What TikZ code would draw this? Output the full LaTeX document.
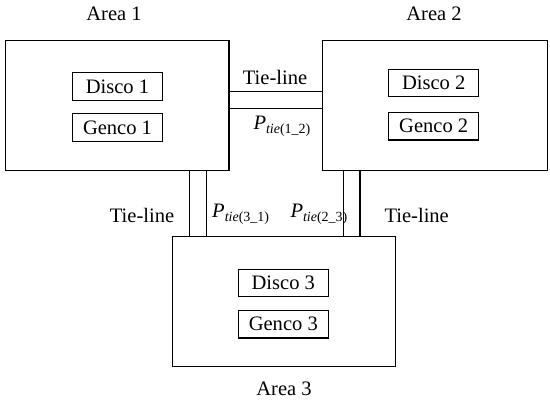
\documentclass[tikz,border=0pt]{standalone}
\usepackage{fontspec}
\setmainfont{Liberation Serif}
\newcommand\ptie[1]{\textit{P}\raisebox{-2.6pt}{\fontsize{10.5}{12}\selectfont\textit{tie}(#1)}}

\begin{document}
\begin{tikzpicture}[x=0.75pt,y=-0.75pt,line width=0.8pt,
  every node/.style={font=\fontsize{15.4}{18}\selectfont},
  area/.style={draw,minimum width=167.5pt,minimum height=97pt,inner sep=0pt},
  unit/.style={draw,minimum width=67.5pt,minimum height=20.7pt,inner sep=0pt}]
\useasboundingbox (0,0) rectangle (550,406);
% areas
\node[area] (area1) at (117.3,105.4) {};
\node[area,minimum width=168.7pt] (area2) at (434.8,105.4) {};
\node[area,minimum height=97.5pt] (area3) at (283.7,301.7) {};
\node[anchor=base] (lbl1) at (114,21) {Area 1};
\node[anchor=base] (lbl2) at (434,21) {Area 2};
\node[anchor=base] (lbl3) at (284,395) {Area 3};
% disco / genco units
\node[unit] (disco1) at (117.5,86.7) {Disco 1};
\node[unit] (genco1) at (117.5,127.5) {Genco 1};
\node[unit] (disco2) at (433.7,83) {Disco 2};
\node[unit] (genco2) at (433.7,126.2) {Genco 2};
\node[unit] (disco3) at (283.3,283) {Disco 3};
\node[unit] (genco3) at (283.3,324.2) {Genco 3};
% tie-lines
\foreach \n/\yy in {a/91.7,b/108.7}{
  \coordinate (h\n) at (0,\yy);
  \draw (area1.east |- h\n) -- (area2.west |- h\n);
}
\foreach \n/\xx/\src in {a/189.7/area1,b/206.7/area1,c/343.3/area2,d/360/area2}{
  \coordinate (v\n) at (\xx,0);
  \draw (\src.south -| v\n) -- (area3.north -| v\n);
}
\node[anchor=base] (tie12) at (275,85) {Tie-line};
\node[anchor=base] (tie31) at (142,223) {Tie-line};
\node[anchor=base] (tie23) at (416.7,223) {Tie-line};
\node[anchor=base west,inner sep=0pt] (p12) at (253,130) {\ptie{1\_2}};
\node[anchor=base west,inner sep=0pt] (p31) at (211.7,218) {\ptie{3\_1}};
\node[anchor=base west,inner sep=0pt] (p23) at (290,218) {\ptie{2\_3}};
\end{tikzpicture}
\end{document}
